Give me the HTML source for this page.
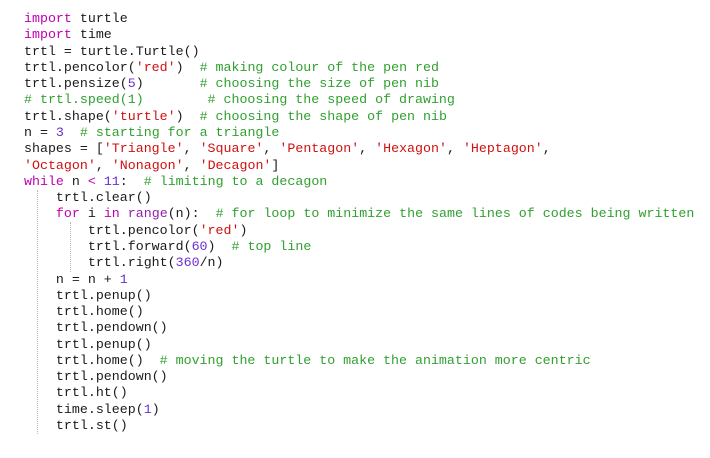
<html><head><style>
body{margin:0;background:#fff;width:710px;height:458px;overflow:hidden}
pre{position:absolute;left:24px;top:11px;margin:0;font-family:"Liberation Mono",monospace;font-size:13.3px;line-height:16.28px;color:#1a1a1a}
.k{color:#c000b0}.s{color:#d01010}.n{color:#6a30d0}.c{color:#30a030}.f{color:#9020b0}
.g{position:absolute;width:0;border-left:1px dotted #bbb}
</style></head><body>
<div class="g" style="left:37px;top:190px;height:244px"></div>
<div class="g" style="left:70px;top:222px;height:50px"></div>
<pre><span class="k">import</span> turtle
<span class="k">import</span> time
trtl = turtle.Turtle()
trtl.pencolor(<span class="s">'red'</span>)  <span class="c"># making colour of the pen red</span>
trtl.pensize(<span class="n">5</span>)       <span class="c"># choosing the size of pen nib</span>
<span class="c"># trtl.speed(1)        # choosing the speed of drawing</span>
trtl.shape(<span class="s">'turtle'</span>)  <span class="c"># choosing the shape of pen nib</span>
n = <span class="n">3</span>  <span class="c"># starting for a triangle</span>
shapes = [<span class="s">'Triangle'</span>, <span class="s">'Square'</span>, <span class="s">'Pentagon'</span>, <span class="s">'Hexagon'</span>, <span class="s">'Heptagon'</span>,
<span class="s">'Octagon'</span>, <span class="s">'Nonagon'</span>, <span class="s">'Decagon'</span>]
<span class="k">while</span> n <span class="k">&lt;</span> <span class="n">11</span>:  <span class="c"># limiting to a decagon</span>
    trtl.clear()
    <span class="k">for</span> i <span class="k">in</span> <span class="f">range</span>(n):  <span class="c"># for loop to minimize the same lines of codes being written</span>
        trtl.pencolor(<span class="s">'red'</span>)
        trtl.forward(<span class="n">60</span>)  <span class="c"># top line</span>
        trtl.right(<span class="n">360</span>/n)
    n = n + <span class="n">1</span>
    trtl.penup()
    trtl.home()
    trtl.pendown()
    trtl.penup()
    trtl.home()  <span class="c"># moving the turtle to make the animation more centric</span>
    trtl.pendown()
    trtl.ht()
    time.sleep(<span class="n">1</span>)
    trtl.st()
</pre></body></html>
